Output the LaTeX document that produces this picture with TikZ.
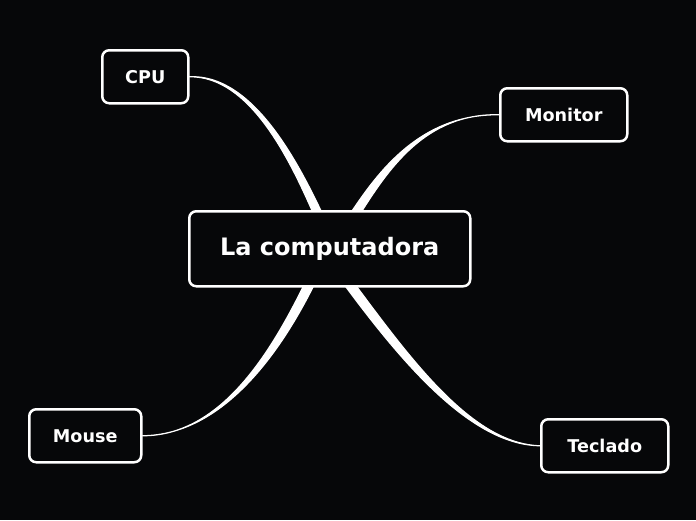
\documentclass[tikz,border=0pt]{standalone}
\usepackage{fontspec}
\setmainfont{DejaVu Sans}
\usetikzlibrary{calc}
\pgfdeclarelayer{bgl}
\pgfdeclarelayer{br}
\pgfsetlayers{bgl,br,main}
\begin{document}
\begin{tikzpicture}[x=1pt,y=-1pt,
  box/.style={draw=white,line width=2.5pt,rounded corners=7pt,fill=bg,text=white,inner sep=0pt,anchor=north west,minimum height=53pt,font=\bfseries\fontsize{17.6}{21}\selectfont},
  branch/.style={fill=white,draw=white,line width=1.2pt,line join=round}]
\definecolor{bg}{HTML}{060709}
\begin{pgfonlayer}{bgl}
\fill[bg] (0,0) rectangle (696,520);
\end{pgfonlayer}
\useasboundingbox (0,0) rectangle (696,520);
\path (188,210) node[box,minimum width=281pt,minimum height=75pt,font=\bfseries\fontsize{24}{28}\selectfont] (c) {La computadora};
\path (101,49) node[box,minimum width=86pt] (cpu) {CPU};
\path (499,87) node[box,minimum width=127pt] (mon) {Monitor};
\path (28,408) node[box,minimum width=112pt] (mou) {Mouse};
\path (540,418) node[box,minimum width=127pt] (tec) {Teclado};
\begin{pgfonlayer}{br}
\filldraw[branch] (cpu.east) .. controls (250,76) and (290,160) .. (314,215) -- (323,215) .. controls (297,160) and (252,74) .. (cpu.east) -- cycle;
\filldraw[branch] (mon.west) .. controls (420,114) and (378,172) .. (350,214) -- (360,214) .. controls (388,170) and (425,113) .. (mon.west) -- cycle;
\filldraw[branch] (mou.east) .. controls (222,436) and (272,350) .. (305,283) -- (315,283) .. controls (282,350) and (224,435) .. (mou.east) -- cycle;
\filldraw[branch] (tec.west) .. controls (470,445) and (400,360) .. (343,283) -- (354,283) .. controls (410,358) and (472,444) .. (tec.west) -- cycle;
\end{pgfonlayer}
\end{tikzpicture}
\end{document}
